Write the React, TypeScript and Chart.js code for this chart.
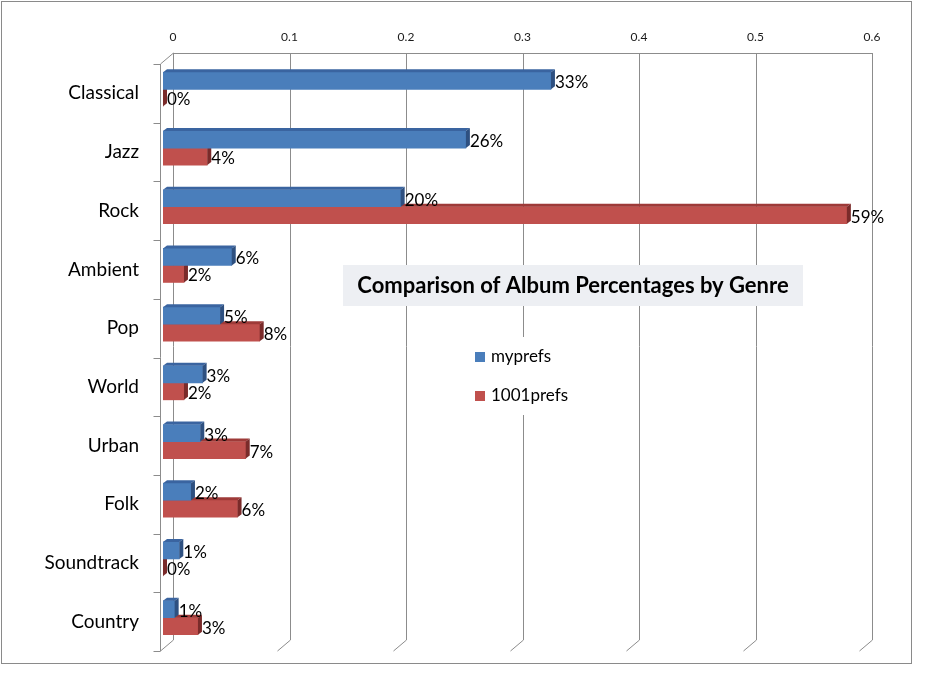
import React, { useEffect, useRef } from 'react';
import { Chart, registerables } from 'chart.js';

Chart.register(...registerables);

const genres = ['Classical', 'Jazz', 'Rock', 'Ambient', 'Pop', 'World', 'Urban', 'Folk', 'Soundtrack', 'Country'];
const myprefs = [0.333, 0.26, 0.204, 0.059, 0.049, 0.034, 0.032, 0.024, 0.014, 0.01];
const prefs1001 = [0, 0.038, 0.587, 0.018, 0.083, 0.018, 0.071, 0.064, 0, 0.03];
const xTicks = [0, 0.1, 0.2, 0.3, 0.4, 0.5, 0.6];
const seriesNames = ['myprefs', '1001prefs'];
const chartTitle = 'Comparison of Album Percentages by Genre';

const FONT = 'Lato, "Open Sans", "DejaVu Sans", sans-serif';
const frontColors = ['#4A7EBB', '#C0504D'];
const topColors = ['#3A64A0', '#9E3A38'];
const sideColors = ['#2E5080', '#7A2B2A'];
const DX = 4;
const DY = 3;
const BAR_SHIFT = -4;

const threeD = {
  id: 'threeD',
  beforeDraw(chart: any) {
    const { ctx, width, height } = chart;
    ctx.save();
    ctx.fillStyle = '#ffffff';
    ctx.fillRect(0, 0, width, height);
    ctx.restore();
  },
  beforeDatasetsDraw(chart: any) {
    const { ctx, chartArea, scales } = chart;
    const xs = scales.x;
    const backTop = chartArea.top - 11;
    const backBottom = chartArea.bottom - 11;
    ctx.save();
    ctx.strokeStyle = '#8c8c8c';
    ctx.lineWidth = 1;
    xTicks.forEach((v) => {
      const px = Math.round(xs.getPixelForValue(v)) + 10 + 0.5;
      ctx.beginPath();
      ctx.moveTo(px, backTop);
      ctx.lineTo(px, backBottom);
      ctx.lineTo(px - 13, chartArea.bottom);
      ctx.stroke();
    });
    const x0 = Math.round(xs.getPixelForValue(0)) + 10 + 0.5;
    const x6 = Math.round(xs.getPixelForValue(0.6)) + 10 + 0.5;
    ctx.beginPath();
    ctx.moveTo(x0, backTop + 0.5);
    ctx.lineTo(x6, backTop + 0.5);
    ctx.stroke();
    const wx = Math.round(xs.getPixelForValue(0)) - 3 + 0.5;
    ctx.beginPath();
    ctx.moveTo(wx + 13, backTop);
    ctx.lineTo(wx, chartArea.top);
    ctx.lineTo(wx, chartArea.bottom);
    ctx.stroke();
    const band = (chartArea.bottom - chartArea.top) / genres.length;
    for (let i = 0; i <= genres.length; i++) {
      const py = Math.round(chartArea.top + i * band) + 0.5;
      ctx.beginPath();
      ctx.moveTo(wx - 7, py);
      ctx.lineTo(wx, py);
      ctx.stroke();
    }
    ctx.restore();
    ctx.save();
    ctx.translate(0, BAR_SHIFT);
  },
  afterDatasetDraw(chart: any, args: any) {
    const { ctx } = chart;
    const di = args.index;
    const meta = args.meta;
    meta.data.forEach((bar: any) => {
      const { x, y, base, height } = bar.getProps(['x', 'y', 'base', 'height'], true);
      const top = y - height / 2;
      const bottom = y + height / 2;
      ctx.fillStyle = topColors[di];
      ctx.beginPath();
      ctx.moveTo(base, top);
      ctx.lineTo(x, top);
      ctx.lineTo(x + DX, top - DY);
      ctx.lineTo(base + DX, top - DY);
      ctx.closePath();
      ctx.fill();
      ctx.fillStyle = sideColors[di];
      ctx.beginPath();
      ctx.moveTo(x, top);
      ctx.lineTo(x + DX, top - DY);
      ctx.lineTo(x + DX, bottom - DY);
      ctx.lineTo(x, bottom);
      ctx.closePath();
      ctx.fill();
    });
  },
  afterDatasetsDraw(chart: any) {
    const { ctx } = chart;
    ctx.font = `17px ${FONT}`;
    ctx.fillStyle = '#000';
    ctx.textAlign = 'left';
    ctx.textBaseline = 'middle';
    chart.data.datasets.forEach((ds: any, di: number) => {
      const meta = chart.getDatasetMeta(di);
      meta.data.forEach((bar: any, i: number) => {
        const { x, y } = bar.getProps(['x', 'y'], true);
        const v = ds.data[i];
        ctx.fillText(Math.round(v * 100) + '%', x + 4, y + 2);
      });
    });
    ctx.restore();
  },
  afterDraw(chart: any) {
    const { ctx } = chart;
    ctx.save();
    // title box
    ctx.fillStyle = '#EDEFF3';
    ctx.fillRect(343, 265, 460, 41);
    ctx.fillStyle = '#000';
    ctx.font = `bold 22px ${FONT}`;
    ctx.textAlign = 'center';
    ctx.textBaseline = 'middle';
    ctx.fillText(chartTitle, 573, 286);
    // legend
    ctx.fillStyle = '#ffffff';
    ctx.fillRect(462, 337, 128, 78);
    ctx.font = `17px ${FONT}`;
    ctx.textAlign = 'left';
    chart.data.datasets.forEach((ds: any, di: number) => {
      const ly = 357 + di * 39;
      ctx.fillStyle = frontColors[di];
      ctx.fillRect(475, ly - 5, 10, 10);
      ctx.fillStyle = '#000';
      ctx.fillText(ds.label, 491, ly);
    });
    // outer border
    ctx.strokeStyle = '#8a8a8a';
    ctx.lineWidth = 1;
    ctx.strokeRect(1.5, 1.5, 910, 662);
    ctx.restore();
  },
};

export default function App() {
  const ref = useRef<HTMLCanvasElement | null>(null);
  useEffect(() => {
    if (!ref.current) return;
    const chart = new Chart(ref.current, {
      type: 'bar',
      data: {
        labels: genres,
        datasets: [
          { label: seriesNames[0], data: myprefs, backgroundColor: frontColors[0], borderWidth: 0 },
          { label: seriesNames[1], data: prefs1001, backgroundColor: frontColors[1], borderWidth: 0 },
        ],
      },
      options: {
        indexAxis: 'y',
        responsive: false,
        animation: false,
        layout: { padding: { left: 0, right: 76, top: 0, bottom: 24 } },
        datasets: { bar: { barThickness: 17 } },
        plugins: {
          legend: { display: false },
          title: { display: false },
          tooltip: { enabled: false },
        },
        scales: {
          x: {
            position: 'top',
            min: 0,
            max: 0.6,
            grid: { display: false, drawTicks: false },
            border: { display: false },
            afterFit: (s: any) => { s.height = 64; s.paddingLeft = 0; s.paddingRight = 0; },
            afterBuildTicks: (s: any) => { s.ticks = xTicks.map((v) => ({ value: v })); },
            ticks: {
              padding: 20,
              labelOffset: 10,
              color: '#1a1a1a',
              font: { family: FONT, size: 12 },
              callback: (v: any) => String(Number(Number(v).toFixed(1))),
            },
          },
          y: {
            grid: { display: false, drawTicks: false },
            border: { display: false },
            afterFit: (s: any) => { s.width = 163; s.paddingTop = 0; s.paddingBottom = 0; },
            ticks: {
              padding: 24,
              color: '#000',
              font: { family: FONT, size: 19 },
            },
          },
        },
      },
      plugins: [threeD],
    });
    return () => chart.destroy();
  }, []);
  return (
    <div style={{ position: 'absolute', left: 0, top: 0, width: 938, height: 675 }}>
      <canvas ref={ref} width={938} height={675} />
    </div>
  );
}
